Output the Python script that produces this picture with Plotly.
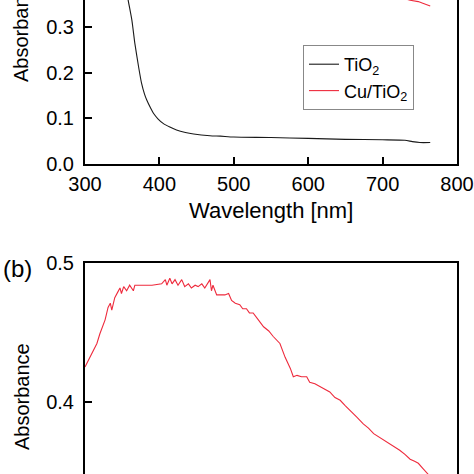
import plotly.graph_objects as go

# ---------------- data ----------------
tio2_wl = [350, 355, 358, 363, 367, 372, 376, 380, 383, 388, 392, 398, 405, 414, 423, 435,
           446, 468, 482, 500, 550, 600, 650, 700, 730, 740, 750, 764]
tio2_abs = [0.46, 0.39, 0.359, 0.315, 0.264, 0.213, 0.177, 0.153, 0.140, 0.123, 0.111, 0.099,
            0.089, 0.081, 0.0744, 0.069, 0.0657, 0.062, 0.061, 0.059, 0.058, 0.056, 0.054,
            0.053, 0.052, 0.049, 0.047, 0.047]

cu_wl = [300, 308, 316, 320, 322, 325, 327, 331, 334, 336, 340, 344, 347, 349, 352, 356, 360,
         365, 367, 376, 390, 403, 408, 410, 414, 417, 421, 425, 430, 434, 439, 443, 448, 452,
         457, 461, 468, 470, 472, 477, 488, 493, 497, 502, 508, 512, 517, 521, 526, 533, 540,
         547, 553, 562, 569, 576, 580, 585, 591, 598, 602, 609, 616, 622, 629, 636, 643, 650,
         656, 665, 674, 681, 688, 697, 706, 715, 723, 730, 737, 743, 748, 754, 759, 764]
cu_abs = [0.425, 0.433, 0.442, 0.449, 0.452, 0.456, 0.459, 0.468, 0.471, 0.466, 0.475, 0.479,
          0.482, 0.478, 0.483, 0.480, 0.484, 0.480, 0.484, 0.484, 0.484, 0.485, 0.488, 0.484,
          0.489, 0.485, 0.488, 0.484, 0.488, 0.483, 0.485, 0.482, 0.484, 0.483, 0.485, 0.482,
          0.488, 0.480, 0.484, 0.477, 0.477, 0.478, 0.473, 0.471, 0.470, 0.467, 0.467, 0.464,
          0.464, 0.459, 0.454, 0.451, 0.447, 0.442, 0.432, 0.424, 0.418, 0.419, 0.418, 0.418,
          0.414, 0.413, 0.411, 0.409, 0.407, 0.403, 0.401, 0.397, 0.394, 0.389, 0.384, 0.381,
          0.377, 0.374, 0.371, 0.368, 0.365, 0.362, 0.3585, 0.357, 0.3556, 0.352, 0.349, 0.346]

x_ticks = [300, 400, 500, 600, 700, 800]
y_ticks_top = [0.0, 0.1, 0.2, 0.3, 0.4]
y_ticks_bot = [0.3, 0.4, 0.5]

# ---------------- layout constants ----------------
W = H = 474
FONT = "Liberation Sans, Arial, sans-serif"
RED = "#ee2a3c"

def px_x(p):
    return p / W

def px_y(p):
    return (H - p) / H

xdom = [px_x(85), px_x(457)]
top_dom = [px_y(164), 1.0]
bot_dom = [0.0, px_y(263)]
top_range = [0.0, 164 / 456.7]
bot_range = [0.5 - 211 / 1387.0, 0.5]

fig = go.Figure()
fig.add_trace(go.Scatter(x=tio2_wl, y=tio2_abs, mode="lines", name="TiO<sub>2</sub>",
                         line=dict(color="#1a1a1a", width=1.1, shape="spline", smoothing=0.6),
                         xaxis="x", yaxis="y"))
fig.add_trace(go.Scatter(x=cu_wl, y=cu_abs, mode="lines", name="Cu/TiO<sub>2</sub>",
                         line=dict(color=RED, width=1.1), xaxis="x", yaxis="y"))
fig.add_trace(go.Scatter(x=cu_wl, y=cu_abs, mode="lines", showlegend=False,
                         line=dict(color=RED, width=1.1), xaxis="x2", yaxis="y2"))

axis_common = dict(showgrid=False, zeroline=False, linecolor="black", linewidth=2,
                   tickcolor="black", tickwidth=2, ticklen=7, automargin=False,
                   tickfont=dict(family=FONT, size=20, color="black"))

fig.update_layout(
    template="none",
    width=W, height=H, autosize=False,
    margin=dict(l=0, r=0, t=0, b=0, pad=0),
    paper_bgcolor="white", plot_bgcolor="white",
    font=dict(family=FONT, color="black"),
    xaxis=dict(domain=xdom, range=[300, 800], tickvals=x_ticks, ticks="inside",
               showline=True, mirror=False, anchor="y", ticklabelstandoff=1, **axis_common),
    yaxis=dict(domain=top_dom, range=top_range, tickvals=y_ticks_top, ticks="inside",
               tickformat=".1f", showline=True, mirror=True, anchor="x",
               ticklabelstandoff=5, **axis_common),
    xaxis2=dict(domain=xdom, range=[300, 800], side="top", showline=True, ticks="",
                showticklabels=False, anchor="y2", **axis_common),
    yaxis2=dict(domain=bot_dom, range=bot_range, tickvals=y_ticks_bot, ticks="inside",
                tickformat=".1f", showline=True, mirror=True, anchor="x2",
                ticklabelstandoff=5, **axis_common),
    legend=dict(x=px_x(303), y=px_y(45), xanchor="left", yanchor="top",
                bordercolor="#888888", borderwidth=1, bgcolor="white",
                font=dict(family=FONT, size=18, color="black"),
                itemwidth=30, tracegroupgap=0),
    showlegend=True,
    annotations=[
        dict(text="Wavelength [nm]", x=px_x(271), y=px_y(210), xref="paper", yref="paper",
             showarrow=False, font=dict(family=FONT, size=22, color="black"),
             xanchor="center", yanchor="middle"),
        dict(text="Absorbance", x=px_x(21), y=px_y(29), xref="paper", yref="paper",
             showarrow=False, textangle=-90, font=dict(family=FONT, size=20, color="black"),
             xanchor="center", yanchor="middle"),
        dict(text="Absorbance", x=px_x(22), y=px_y(397), xref="paper", yref="paper",
             showarrow=False, textangle=-90, font=dict(family=FONT, size=20, color="black"),
             xanchor="center", yanchor="middle"),
        dict(text="(b)", x=px_x(34), y=px_y(268), xref="paper", yref="paper",
             showarrow=False, font=dict(family=FONT, size=24, color="black"),
             xanchor="right", yanchor="middle"),
    ],
)

fig.write_html("out.html")
